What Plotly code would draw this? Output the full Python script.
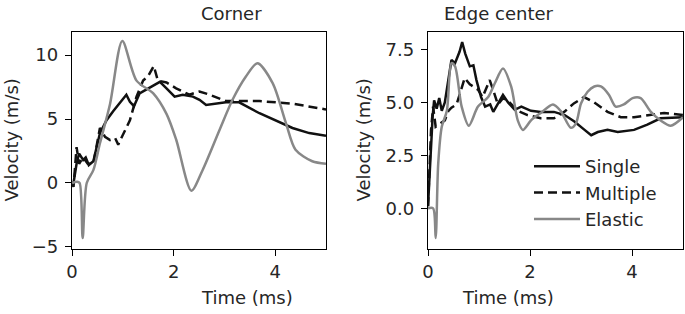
import plotly.graph_objects as go

# ---- Corner panel data ----
corner_single_t = [0.0, 0.03, 0.09, 0.14, 0.22, 0.27, 0.33, 0.42, 0.55, 0.68, 0.81, 0.97, 1.07, 1.14, 1.22, 1.33, 1.46, 1.6, 1.73, 1.86, 2.02, 2.18, 2.38, 2.51, 2.64, 3.03, 3.29, 3.69, 4.01, 4.34, 4.67, 5.0]
corner_single_v = [0.0, 0.0, 1.5, 2.3, 1.8, 2.0, 1.4, 1.7, 3.9, 4.9, 5.6, 6.35, 6.9, 6.35, 6.0, 7.0, 7.3, 7.65, 7.9, 7.4, 6.75, 6.9, 6.75, 6.5, 6.1, 6.3, 6.3, 5.45, 4.9, 4.3, 3.9, 3.7]

corner_multi_t = [0.0, 0.03, 0.09, 0.14, 0.22, 0.31, 0.42, 0.55, 0.65, 0.75, 0.85, 0.91, 1.0, 1.14, 1.27, 1.4, 1.5, 1.61, 1.69, 1.86, 2.05, 2.31, 2.51, 2.71, 3.03, 3.69, 4.34, 5.0]
corner_multi_v = [0.0, -0.3, 2.8, 1.5, 2.0, 1.5, 1.5, 4.3, 3.6, 3.35, 3.5, 3.0, 3.75, 4.9, 6.75, 8.0, 8.35, 9.15, 8.0, 7.85, 7.4, 6.9, 7.15, 6.9, 6.4, 6.4, 6.2, 5.75]

corner_elastic_t = [0.0, 0.1, 0.15, 0.21, 0.29, 0.42, 0.55, 0.75, 0.99, 1.27, 1.6, 1.86, 2.05, 2.35, 2.57, 2.9, 3.16, 3.42, 3.65, 3.95, 4.21, 4.4, 4.73, 5.0]
corner_elastic_v = [0.0, 0.1, 0.0, -4.3, 0.0, 1.0, 3.1, 6.2, 11.1, 8.0, 7.0, 5.4, 3.4, -0.6, 1.0, 4.1, 6.5, 8.3, 9.35, 7.8, 4.7, 2.6, 1.7, 1.5]

# ---- Edge center panel data ----
edge_single_t = [0.0, 0.04, 0.09, 0.12, 0.17, 0.22, 0.27, 0.33, 0.4, 0.46, 0.53, 0.62, 0.67, 0.73, 0.82, 0.89, 0.95, 1.04, 1.12, 1.22, 1.28, 1.38, 1.47, 1.57, 1.7, 1.83, 2.02, 2.21, 2.47, 2.68, 2.87, 3.07, 3.2, 3.33, 3.52, 3.72, 4.04, 4.3, 4.56, 5.0]
edge_single_v = [0.1, 2.1, 4.3, 5.1, 4.7, 5.2, 4.6, 5.0, 6.05, 7.0, 6.85, 7.4, 7.85, 7.3, 6.7, 6.75, 6.05, 5.25, 4.8, 4.9, 4.55, 5.0, 5.35, 5.0, 4.65, 4.8, 4.6, 4.55, 4.55, 4.4, 4.1, 3.7, 3.45, 3.6, 3.7, 3.6, 3.7, 3.95, 4.25, 4.3]

edge_multi_t = [0.0, 0.06, 0.1, 0.15, 0.24, 0.33, 0.4, 0.46, 0.56, 0.66, 0.72, 0.82, 0.98, 1.07, 1.14, 1.21, 1.29, 1.37, 1.47, 1.6, 1.76, 1.95, 2.21, 2.47, 2.67, 2.86, 3.06, 3.26, 3.52, 3.78, 4.04, 4.37, 4.63, 5.0]
edge_multi_v = [0.1, 3.7, 4.8, 3.85, 4.0, 4.15, 4.6, 4.75, 4.9, 5.75, 6.15, 5.85, 5.6, 5.25, 5.7, 6.05, 5.5, 4.9, 5.2, 5.0, 4.6, 4.4, 4.25, 4.25, 4.55, 4.95, 5.25, 5.0, 4.55, 4.3, 4.3, 4.4, 4.5, 4.4]

edge_elastic_t = [0.0, 0.1, 0.15, 0.2, 0.27, 0.37, 0.46, 0.53, 0.66, 0.8, 0.98, 1.18, 1.31, 1.47, 1.63, 1.76, 1.86, 2.02, 2.21, 2.45, 2.6, 2.8, 2.9, 3.0, 3.13, 3.26, 3.39, 3.55, 3.68, 3.84, 4.01, 4.17, 4.37, 4.56, 4.76, 5.0]
edge_elastic_v = [0.0, 0.0, -1.4, 2.1, 3.85, 4.6, 6.85, 6.7, 4.8, 3.9, 4.8, 5.25, 5.9, 6.6, 5.75, 4.15, 3.7, 4.15, 4.5, 4.9, 4.6, 3.8, 4.0, 4.95, 5.5, 5.75, 5.75, 5.35, 4.8, 4.9, 5.2, 5.2, 4.55, 4.15, 3.9, 4.3]

series_names = ["Single", "Multiple", "Elastic"]
panel_titles = ["Corner", "Edge center"]
x_title = "Time (ms)"
y_title = "Velocity (m/s)"
corner_x_ticks = [0, 2, 4]
corner_y_ticks = [-5, 0, 5, 10]
edge_y_ticks = [0.0, 2.5, 5.0, 7.5]

BLACK = "#111111"
GRAY = "#888888"
TXT = "#262626"
FONT = "DejaVu Sans"
FS = 18
W, H = 685, 314
DASH = "9px,5px"

fig = go.Figure()

def add(t, v, name, color, dash, shape, xa, ya, show):
    fig.add_trace(go.Scatter(
        x=t, y=v, mode="lines", name=name,
        line=dict(color=color, width=2.5, dash=dash, shape=shape,
                  smoothing=0.8 if shape == "spline" else None),
        xaxis=xa, yaxis=ya, showlegend=show,
    ))

add(corner_single_t, corner_single_v, series_names[0], BLACK, "solid", "linear", "x", "y", False)
add(corner_multi_t, corner_multi_v, series_names[1], BLACK, DASH, "linear", "x", "y", False)
add(corner_elastic_t, corner_elastic_v, series_names[2], GRAY, "solid", "spline", "x", "y", False)
add(edge_single_t, edge_single_v, series_names[0], BLACK, "solid", "linear", "x2", "y2", True)
add(edge_multi_t, edge_multi_v, series_names[1], BLACK, DASH, "linear", "x2", "y2", True)
add(edge_elastic_t, edge_elastic_v, series_names[2], GRAY, "solid", "spline", "x2", "y2", True)

axis_common = dict(
    showline=True, linecolor="black", linewidth=1.3, mirror=True,
    ticks="outside", ticklen=6, tickwidth=1.3, tickcolor="black",
    showgrid=False, zeroline=False, automargin=False,
    tickfont=dict(family=FONT, size=FS, color=TXT),
)

L1, R1 = 72, 326
L2, R2 = 428, 683
TOP, BOT = 32, 249

fig.update_layout(
    width=W, height=H,
    margin=dict(l=0, r=0, t=0, b=0, autoexpand=False),
    paper_bgcolor="white", plot_bgcolor="white",
    font=dict(family=FONT, size=FS, color=TXT),
    xaxis=dict(domain=[L1/W, R1/W], range=[0, 5], tickvals=corner_x_ticks, anchor="y", **axis_common),
    yaxis=dict(domain=[1-BOT/H, 1-TOP/H], range=[-5.16, 11.8], tickvals=corner_y_ticks, anchor="x",
               ticklabelstandoff=3, **axis_common),
    xaxis2=dict(domain=[L2/W, R2/W], range=[0, 5], tickvals=corner_x_ticks, anchor="y2", **axis_common),
    yaxis2=dict(domain=[1-BOT/H, 1-TOP/H], range=[-1.92, 8.32], tickvals=edge_y_ticks, tickformat=".1f",
                anchor="x2", ticklabelstandoff=3, **axis_common),
    legend=dict(x=529/W, y=1-148/H, xanchor="left", yanchor="top", bgcolor="rgba(255,255,255,0)",
                font=dict(family=FONT, size=FS, color=TXT), itemwidth=46, tracegroupgap=0),
    annotations=[
        dict(text=panel_titles[0], x=(L1+R1)/2/W, y=1-14/H, xref="paper", yref="paper",
             showarrow=False, font=dict(family=FONT, size=FS, color=TXT), yanchor="middle"),
        dict(text=panel_titles[1], x=(L2+R2)/2/W, y=1-14/H, xref="paper", yref="paper",
             showarrow=False, font=dict(family=FONT, size=FS, color=TXT), yanchor="middle"),
        dict(text=x_title, x=(L1+R1)/2/W, y=1-297/H, xref="paper", yref="paper",
             showarrow=False, font=dict(family=FONT, size=FS, color=TXT), yanchor="middle"),
        dict(text=x_title, x=(L2+R2)/2/W, y=1-297/H, xref="paper", yref="paper",
             showarrow=False, font=dict(family=FONT, size=FS, color=TXT), yanchor="middle"),
        dict(text=y_title, x=11/W, y=1-(TOP+BOT)/2/H, xref="paper", yref="paper", textangle=-90,
             showarrow=False, font=dict(family=FONT, size=FS, color=TXT), xanchor="center", yanchor="middle"),
        dict(text=y_title, x=363/W, y=1-(TOP+BOT)/2/H, xref="paper", yref="paper", textangle=-90,
             showarrow=False, font=dict(family=FONT, size=FS, color=TXT), xanchor="center", yanchor="middle"),
    ],
)

fig.write_html(
    "out.html",
    config={"displayModeBar": False},
    post_script="document.body.style.margin='0';document.body.style.overflow='hidden';",
)
